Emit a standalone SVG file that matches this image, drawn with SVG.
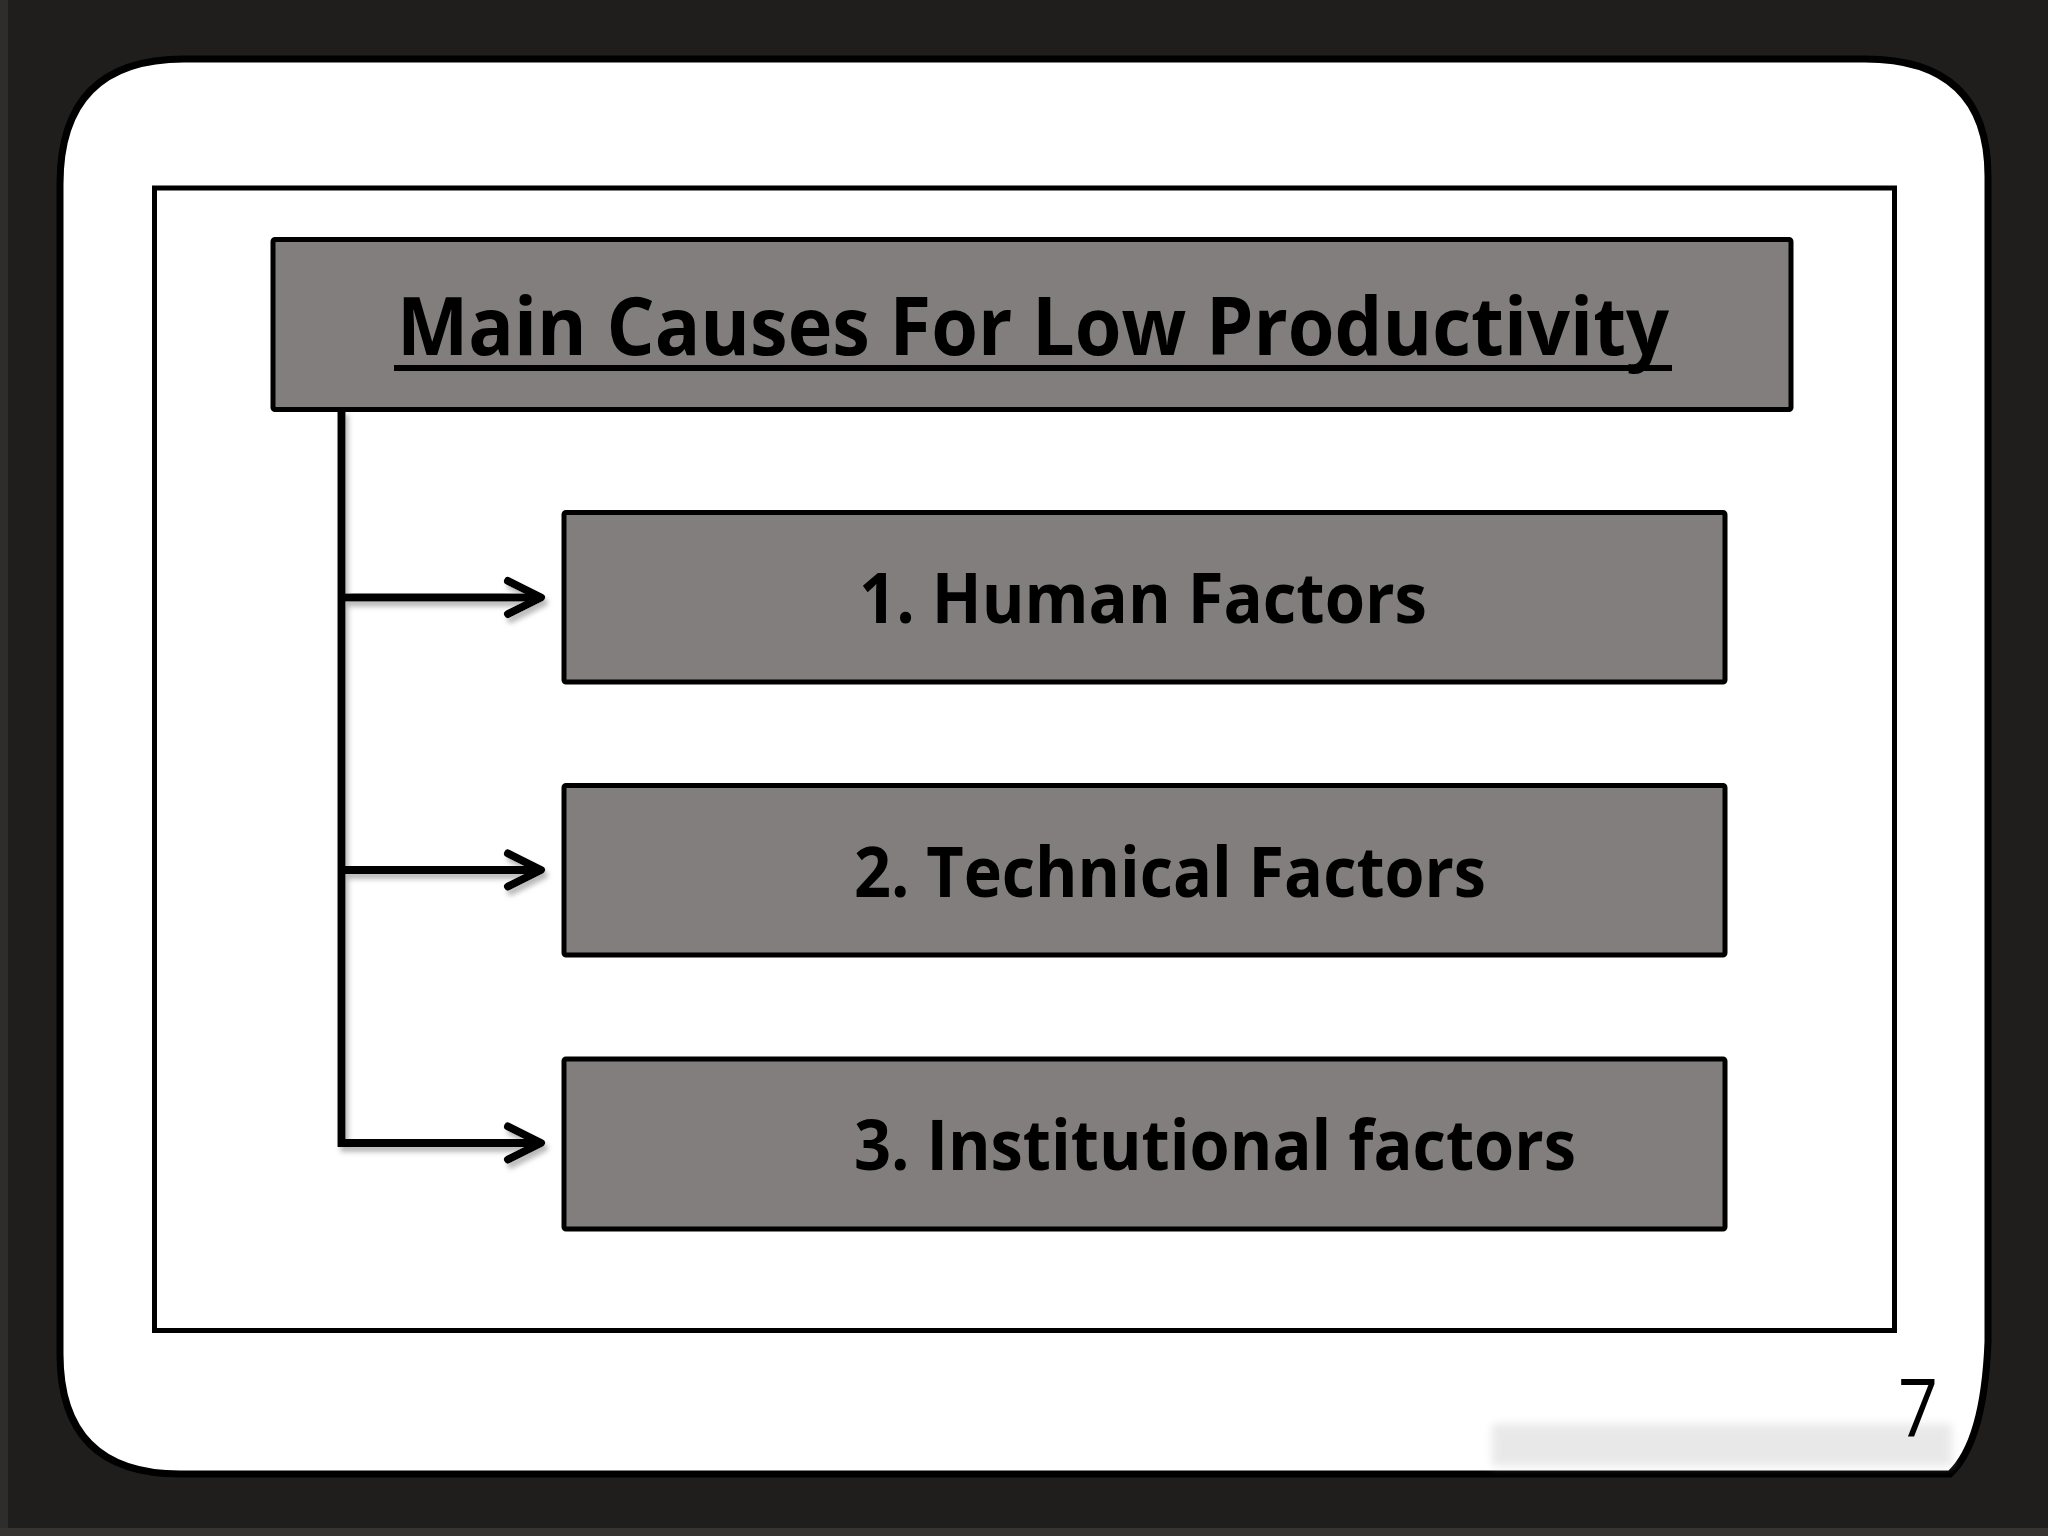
<svg xmlns="http://www.w3.org/2000/svg" width="2048" height="1536" viewBox="0 0 2048 1536">
  <defs>
    <style>
      .box { fill: #817e7d; stroke: #000; stroke-width: 5; }
      .lbl { font-family: "Open Sans", "Liberation Sans", sans-serif; font-weight: 700; fill: #000; }
      .conn { fill: none; stroke: #000; stroke-width: 8; }
      .head { fill: none; stroke: #000; stroke-width: 8; stroke-linecap: round; stroke-linejoin: round; }
    </style>
    <filter id="sh" x="-10%" y="-10%" width="130%" height="140%">
      <feDropShadow dx="3" dy="5" stdDeviation="2.5" flood-color="#8a8a8a" flood-opacity="0.6"/>
    </filter>
    <filter id="blur" x="-10%" y="-50%" width="120%" height="200%">
      <feGaussianBlur stdDeviation="4"/>
    </filter>
  </defs>

  <!-- background -->
  <rect x="0" y="0" width="2048" height="1536" fill="#201e1d"/>
  <rect x="0" y="0" width="8" height="1536" fill="#2f2d2b"/>
  <rect x="0" y="1528" width="2048" height="8" fill="#363331"/>

  <!-- slide frame -->
  <g id="slide">
    <path d="M184,59 H1865 Q1988,59 1988,176 V1342 Q1984,1442 1950,1474 H180 Q60,1474 60,1354 V184 Q60,59 184,59 Z"
          fill="#ffffff" stroke="#000" stroke-width="7"/>
    <rect x="154.5" y="188" width="1740" height="1142.5" fill="none" stroke="#000" stroke-width="5"/>
  </g>

  <!-- title -->
  <g id="title">
    <rect class="box" x="273" y="239.5" width="1518" height="170" rx="2"/>
    <text class="lbl" x="397" y="355" font-size="80" textLength="1272" lengthAdjust="spacingAndGlyphs">Main Causes For Low Productivity</text>
    <line x1="394" y1="368" x2="1672" y2="368" stroke="#000" stroke-width="6"/>
  </g>

  <!-- connectors -->
  <g id="connectors" filter="url(#sh)">
    <path class="conn" d="M341.5,410 V1143 H538"/>
    <line class="conn" x1="341.5" y1="597.5" x2="538" y2="597.5"/>
    <line class="conn" x1="341.5" y1="870" x2="538" y2="870"/>
    <polyline class="head" points="508,581 541,597.5 508,614"/>
    <polyline class="head" points="508,853.5 541,870 508,886.5"/>
    <polyline class="head" points="508,1126.5 541,1143 508,1159.5"/>
  </g>

  <g id="node-human">
    <rect class="box" x="564" y="512.5" width="1161" height="169.5" rx="2"/>
    <text class="lbl" x="859" y="623" font-size="70" textLength="568" lengthAdjust="spacingAndGlyphs">1. Human Factors</text>
  </g>

  <g id="node-technical">
    <rect class="box" x="564" y="785.5" width="1161" height="169.5" rx="2"/>
    <text class="lbl" x="854" y="897" font-size="70" textLength="632" lengthAdjust="spacingAndGlyphs">2. Technical Factors</text>
  </g>

  <g id="node-institutional">
    <rect class="box" x="564" y="1059" width="1161" height="170" rx="2"/>
    <text class="lbl" x="854" y="1170" font-size="70" textLength="722" lengthAdjust="spacingAndGlyphs">3. Institutional factors</text>
  </g>

  <!-- page number and faint watermark patch -->
  <g id="footer">
    <rect x="1492" y="1424" width="460" height="42" fill="#dadada" opacity="0.6" filter="url(#blur)"/>
    <text x="1898" y="1437" font-family="'Open Sans', 'Liberation Sans', sans-serif" font-size="80" textLength="40" lengthAdjust="spacingAndGlyphs" fill="#000">7</text>
  </g>
</svg>
